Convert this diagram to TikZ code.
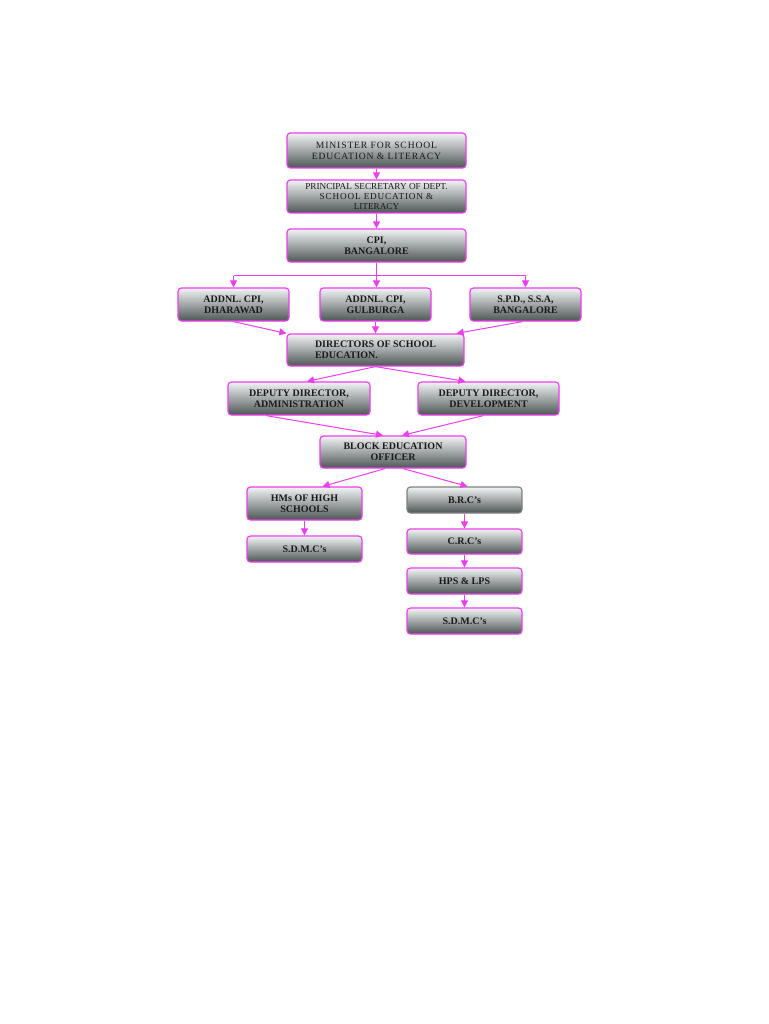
\documentclass[tikz,border=0pt]{standalone}
\usepackage{fontspec}
\setmainfont{Liberation Serif}
\usetikzlibrary{arrows.meta}
\definecolor{mag}{HTML}{F03CF0}
\definecolor{txt}{HTML}{1A1A1A}
\definecolor{boxtop}{HTML}{F2F4F4}
\definecolor{boxmid}{HTML}{B4BABA}
\definecolor{boxbot}{HTML}{4E5656}
\tikzset{
  orgbox/.style={draw=mag, line width=1.2pt, rounded corners=3.5pt,
    top color=boxtop, middle color=boxmid, bottom color=boxbot, text=txt,
    font=\bfseries\fontsize{10}{11}\selectfont, align=center, inner sep=1pt},
  plainbox/.style={orgbox, draw=black!50},
  conn/.style={draw=mag, line width=1pt, -{Triangle[length=7pt,width=7pt]}},
  wire/.style={draw=mag, line width=1.4pt}
}
\begin{document}
\begin{tikzpicture}[x=1pt,y=-1pt]
\useasboundingbox (0,0) rectangle (768,1024);
\fill[white] (0,0) rectangle (768,1024);
\node[orgbox, minimum width=179pt, minimum height=35pt, font=\fontsize{9.6}{11}\selectfont\addfontfeatures{LetterSpace=9}] (min) at (376.5,150.5) {MINISTER FOR SCHOOL\\EDUCATION \& LITERACY};
\node[orgbox, minimum width=179pt, minimum height=33pt, font=\fontsize{9.2}{10}\selectfont] (psec) at (376.5,196.5) {PRINCIPAL SECRETARY OF DEPT.\\{\addfontfeatures{LetterSpace=9}SCHOOL EDUCATION \&}\\LITERACY};
\node[orgbox, minimum width=179pt, minimum height=33pt] (cpi) at (376.5,245.5) {CPI,\\BANGALORE};
\node[orgbox, minimum width=111pt, minimum height=33pt] (adw) at (233.5,304.5) {ADDNL. CPI,\\DHARAWAD};
\node[orgbox, minimum width=111pt, minimum height=33pt] (agb) at (375.5,304.5) {ADDNL. CPI,\\GULBURGA};
\node[orgbox, minimum width=111pt, minimum height=33pt] (spd) at (525.5,304.5) {S.P.D., S.S.A,\\BANGALORE};
\node[orgbox, minimum width=177pt, minimum height=32pt, align=left] (dir) at (375.5,350) {DIRECTORS OF SCHOOL\\EDUCATION.};
\node[orgbox, minimum width=142pt, minimum height=33pt] (dda) at (299,398.5) {DEPUTY DIRECTOR,\\ADMINISTRATION};
\node[orgbox, minimum width=141pt, minimum height=33pt] (ddd) at (488.5,398.5) {DEPUTY DIRECTOR,\\DEVELOPMENT};
\node[orgbox, minimum width=146pt, minimum height=32pt] (beo) at (393,452) {BLOCK EDUCATION\\OFFICER};
\node[orgbox, minimum width=115pt, minimum height=33pt] (hms) at (304.5,503.5) {HMs OF HIGH\\SCHOOLS};
\node[plainbox, minimum width=115pt, minimum height=26pt] (brc) at (464.5,500) {B.R.C's};
\node[orgbox, minimum width=115pt, minimum height=26pt] (sdl) at (304.5,549) {S.D.M.C's};
\node[orgbox, minimum width=115pt, minimum height=25pt] (crc) at (464.5,541.5) {C.R.C's};
\node[orgbox, minimum width=115pt, minimum height=26pt] (hps) at (464.5,581) {HPS \& LPS};
\node[orgbox, minimum width=115pt, minimum height=26pt] (sdr) at (464.5,621) {S.D.M.C's};
\coordinate (split) at (376.5,275.5);
\coordinate (lt) at (233.5,275.5);
\coordinate (rt) at (525.5,275.5);
\draw[conn] (min) -- (psec);
\draw[conn] (psec) -- (cpi);
\draw[wire] (cpi) -- (split);
\draw[wire] (lt) -- (rt);
\draw[conn] (lt) -- (adw.north);
\draw[conn] (rt) -- (spd.north);
\draw[conn] (split) -- (split |- agb.north);
\draw[conn] (adw.south) -- (dir.north west);
\draw[conn] (agb.south) -- (agb.south |- dir.north);
\draw[conn] ([xshift=-3pt]spd.south) -- ([xshift=-8pt]dir.north east);
\draw[conn] (dir.south) -- ([xshift=8pt]dda.north);
\draw[conn] (dir.south) -- ([xshift=-23pt]ddd.north);
\draw[conn] ([xshift=-33pt]dda.south) -- ([xshift=-10pt]beo.north);
\draw[conn] ([xshift=-5pt]ddd.south) -- ([xshift=9pt]beo.north);
\draw[conn] ([xshift=-8pt]beo.south) -- ([xshift=18pt]hms.north);
\draw[conn] ([xshift=10pt]beo.south) -- ([xshift=3pt]brc.north);
\draw[conn] (hms) -- (sdl);
\draw[conn] (brc) -- (crc);
\draw[conn] (crc) -- (hps);
\draw[conn] (hps) -- (sdr);
\end{tikzpicture}
\end{document}
